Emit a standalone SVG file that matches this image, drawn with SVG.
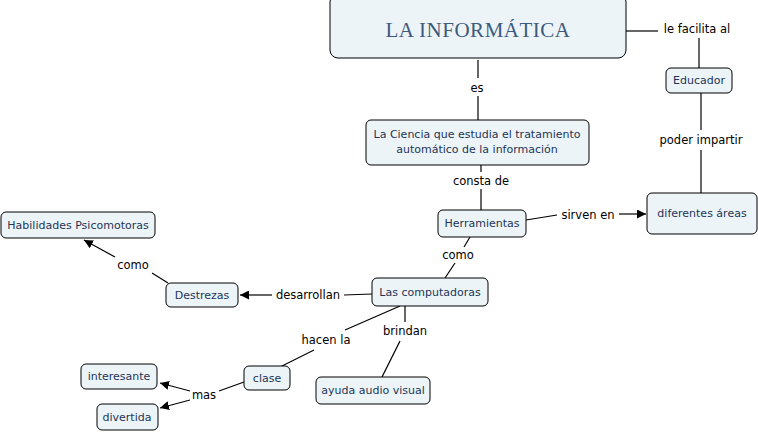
<svg xmlns="http://www.w3.org/2000/svg" width="758" height="432" viewBox="0 0 758 432">
<style>
.n{fill:#edf4f7;stroke:#000;stroke-width:1}
.t{font-family:"DejaVu Sans",Verdana,sans-serif;font-size:11px;fill:#1c3557;text-anchor:middle}
.l{font-family:"DejaVu Sans",Verdana,sans-serif;font-size:11.5px;fill:#000;text-anchor:middle}
.c line{stroke:#000;stroke-width:1.2}
</style>
<defs><marker id="a" viewBox="0 0 10 10" refX="10" refY="5" markerWidth="9" markerHeight="9" markerUnits="userSpaceOnUse" orient="auto"><path d="M0,0L10,5L0,10z" fill="#000"/></marker></defs>
<rect width="758" height="432" fill="#fff"/>
<g class="c">
<line x1="626" y1="31" x2="658" y2="31"/>
<line x1="699" y1="38" x2="699" y2="68"/>
<line x1="478" y1="60" x2="478" y2="78"/>
<line x1="478" y1="96" x2="478" y2="120"/>
<line x1="481" y1="165" x2="481" y2="172"/>
<line x1="481" y1="189" x2="481" y2="210"/>
<line x1="526" y1="220" x2="557" y2="215"/>
<line x1="619" y1="214" x2="646" y2="214" marker-end="url(#a)"/>
<line x1="701" y1="92" x2="701" y2="130"/>
<line x1="701" y1="150" x2="701" y2="193"/>
<line x1="470" y1="237" x2="464" y2="247"/>
<line x1="455" y1="263" x2="445" y2="278"/>
<line x1="372" y1="294" x2="344" y2="295"/>
<line x1="272" y1="295" x2="240" y2="295" marker-end="url(#a)"/>
<line x1="168" y1="283" x2="152" y2="273"/>
<line x1="115" y1="257" x2="84" y2="240" marker-end="url(#a)"/>
<line x1="400" y1="306" x2="345" y2="330"/>
<line x1="314" y1="350" x2="280" y2="367"/>
<line x1="405" y1="306" x2="405" y2="322"/>
<line x1="400" y1="341" x2="382" y2="377"/>
<line x1="244" y1="382" x2="219" y2="391"/>
<line x1="190" y1="391" x2="160" y2="383" marker-end="url(#a)"/>
<line x1="190" y1="400" x2="160" y2="408" marker-end="url(#a)"/>
</g>
<g class="l">
<text x="697" y="33">le facilita al</text>
<text x="477" y="92">es</text>
<text x="481" y="185">consta de</text>
<text x="588" y="219">sirven en</text>
<text x="701" y="144">poder impartir</text>
<text x="458" y="259">como</text>
<text x="308" y="299">desarrollan</text>
<text x="133" y="269">como</text>
<text x="326" y="344">hacen la</text>
<text x="405" y="335">brindan</text>
<text x="204" y="399">mas</text>
</g>
<g id="title"><rect class="n" x="330" y="-6" width="296" height="64" rx="8"/><text x="478" y="37" font-family="'Liberation Serif',serif" font-size="21" fill="#3d5a7e" text-anchor="middle" letter-spacing="0.5">LA INFORMÁTICA</text></g>
<g id="educador"><rect class="n" x="666" y="68" width="66" height="25" rx="5"/><text class="t" x="699" y="84">Educador</text></g>
<g id="ciencia"><rect class="n" x="366" y="120" width="223" height="45" rx="5"/><text class="t" x="477" y="138">La Ciencia que estudia el tratamiento</text><text class="t" x="477" y="153">automático de la información</text></g>
<g id="herramientas"><rect class="n" x="438" y="210" width="88" height="27" rx="5"/><text class="t" x="482" y="227">Herramientas</text></g>
<g id="areas"><rect class="n" x="647" y="193" width="110" height="41" rx="5"/><text class="t" x="702" y="217">diferentes áreas</text></g>
<g id="computadoras"><rect class="n" x="372" y="278" width="116" height="28" rx="5"/><text class="t" x="430" y="296">Las computadoras</text></g>
<g id="destrezas"><rect class="n" x="166" y="283" width="72" height="24" rx="5"/><text class="t" x="202" y="299">Destrezas</text></g>
<g id="habilidades"><rect class="n" x="1" y="212" width="154" height="26" rx="5"/><text class="t" x="78" y="229">Habilidades Psicomotoras</text></g>
<g id="clase"><rect class="n" x="244" y="366" width="46" height="24" rx="5"/><text class="t" x="267" y="382">clase</text></g>
<g id="ayuda"><rect class="n" x="316" y="377" width="114" height="27" rx="5"/><text class="t" x="373" y="394">ayuda audio visual</text></g>
<g id="interesante"><rect class="n" x="81" y="364" width="76" height="25" rx="5"/><text class="t" x="119" y="380">interesante</text></g>
<g id="divertida"><rect class="n" x="97" y="404" width="61" height="26" rx="5"/><text class="t" x="127" y="421">divertida</text></g>
</svg>
